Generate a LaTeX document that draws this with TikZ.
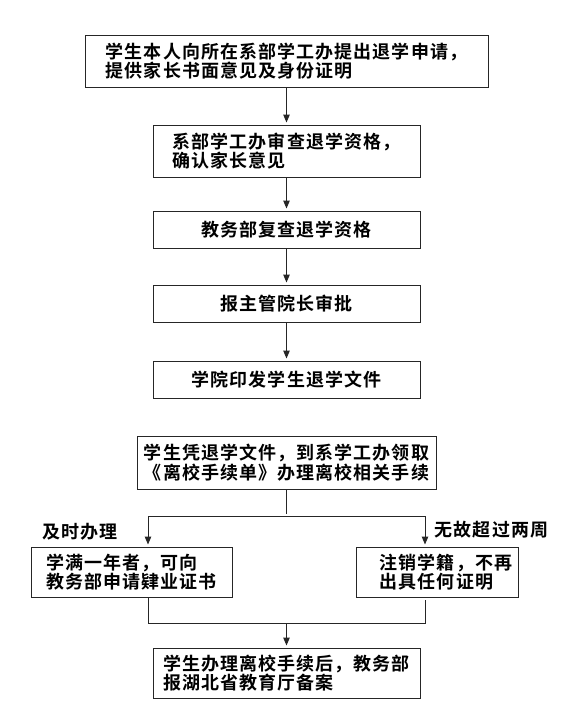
\documentclass[tikz,border=0pt]{standalone}
\usepackage{fontspec}
\newfontfamily\cjk{Noto Sans CJK SC}[BoldFont={Noto Sans CJK SC Bold},LetterSpace=6]
\usetikzlibrary{arrows.meta}

\begin{document}
\begin{tikzpicture}[x=1pt, y=-1pt,
	> = {Triangle[length=8pt,width=6.5pt]}, % arrow head style
	shorten > = 2pt, % small gap before the box
	line width=1pt, % line style
	every node/.style={font=\cjk\bfseries\fontsize{18pt}{19.5pt}\selectfont},
	stepbox/.style={draw=black!85, rectangle, align=left, inner sep=0pt}]
	\useasboundingbox (0,0) rectangle (569,720);
	\node[stepbox, minimum width=403, minimum height=52] (apply) at (286.5,61) {学生本人向所在系部学工办提出退学申请，\\提供家长书面意见及身份证明};
	\node[stepbox, minimum width=267, minimum height=52] (check) at (286.5,151) {系部学工办审查退学资格，\\确认家长意见};
	\node[stepbox, minimum width=267, minimum height=37] (recheck) at (286.5,229.5) {教务部复查退学资格};
	\node[stepbox, minimum width=267, minimum height=37] (approve) at (286.5,303.5) {报主管院长审批};
	\node[stepbox, minimum width=267, minimum height=37] (issue) at (286.5,379.5) {学院印发学生退学文件};
	\node[stepbox, minimum width=299, minimum height=53] (leave) at (286.5,462.5) {学生凭退学文件，到系学工办领取\\《离校手续单》办理离校相关手续};
	\node[stepbox, minimum width=201, minimum height=50] (cert) at (131.5,572) {学满一年者，可向\\教务部申请肄业证书};
	\node[stepbox, minimum width=162, minimum height=50] (cancel) at (437,572) {\hspace*{18pt}注销学籍，不再\\\hspace*{18pt}出具任何证明};
	\node[stepbox, minimum width=267, minimum height=50] (record) at (286.5,673) {学生办理离校手续后，教务部\\报湖北省教育厅备案};
	% branch labels
	\node (ontime) at (80,532) {及时办理};
	\node[anchor=west] (overdue) at (431,530) {无故超过两周};
	% fork and join points
	\coordinate (fork) at (286.5,516);
	\coordinate (forkl) at (148,516);
	\coordinate (forkr) at (425,516);
	\coordinate (join) at (286.5,623);
	\coordinate (joinl) at (148,623);
	\coordinate (joinr) at (425,623);
	\begin{scope}[draw=black!85]
	\draw[->] (apply) -- (check);
	\draw[->] (check) -- (recheck);
	\draw[->] (recheck) -- (approve);
	\draw[->] (approve) -- (issue);
	\draw (leave) -- (fork);
	\draw[->] (fork) -- (forkl) -- (forkl |- cert.north);
	\draw[->] (fork) -- (forkr) -- (forkr |- cancel.north);
	\draw (cert.south -| joinl) -- (joinl) -- (joinr) -- (cancel.south -| joinr);
	\draw[->] (join) -- (record);
	\end{scope}
\end{tikzpicture}
\end{document}
